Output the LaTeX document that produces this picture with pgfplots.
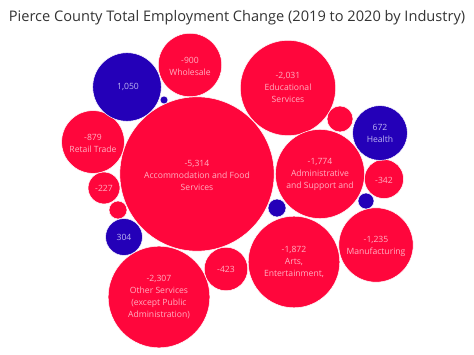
\documentclass[border=0pt]{standalone}
\usepackage{fontspec}
\setmainfont{Open Sans}
\usepackage{pgfplots}
\usepackage{pgfplotstable}
\pgfplotsset{compat=1.18}
\definecolor{bred}{HTML}{FF063C}
\definecolor{bblue}{HTML}{2400B8}
\definecolor{tred}{HTML}{FFB0C2}
\definecolor{tblue}{HTML}{BEB6F2}
\definecolor{ttl}{HTML}{333333}
% x, y in pixels of the picture (y downwards), v = employment change
\pgfplotstableread{
x y v
197 174 -5314
288 88 -2031
190 65 -900
93 142 -879
104 188 -227
118 210 -72
159 297 -2307
226 269 -423
294 262 -1872
320 174 -1774
340 119 -151
384 179 -342
376 245 -1235
}\redtab
\pgfplotstableread{
x y v
127 87 1050
164 100 14
124 237 304
277 208 72
380 133 672
366 201 57
}\bluetab
\begin{document}
\begin{tikzpicture}[lbl/.style={font=\fontsize{8.6}{12}\selectfont, align=center, inner sep=0pt}]
\begin{axis}[
  set layers,
  scale only axis, width=474pt, height=355pt,
  xmin=0, xmax=474, ymin=0, ymax=355, y dir=reverse,
  axis lines=none, clip=false,
]
\addplot[scatter, only marks, mark=*,
  scatter/use mapped color={draw=white, fill=bred, line width=0.5pt},
  visualization depends on={sqrt(1.12*abs(\thisrow{v}))\as\rad},
  scatter/@pre marker code/.append style={/tikz/mark size=\rad}]
  table[x=x, y=y] {\redtab};
\addplot[scatter, only marks, mark=*,
  scatter/use mapped color={draw=white, fill=bblue, line width=0.5pt},
  visualization depends on={sqrt(1.12*abs(\thisrow{v}))\as\rad},
  scatter/@pre marker code/.append style={/tikz/mark size=\rad}]
  table[x=x, y=y] {\bluetab};
\begin{pgfonlayer}{axis foreground}
\node[text=ttl, font=\fontsize{14.6}{17}\selectfont] at (axis cs:237,18) {Pierce County Total Employment Change (2019 to 2020 by Industry)};
\node[lbl, text=tred] at (axis cs:197,175) {-5,314\\Accommodation and Food\\Services};
\node[lbl, text=tred] at (axis cs:288,87) {-2,031\\Educational\\Services};
\node[lbl, text=tred] at (axis cs:190,66) {-900\\Wholesale};
\node[lbl, text=tblue] at (axis cs:128,87) {1,050};
\node[lbl, text=tred] at (axis cs:93,143) {-879\\Retail Trade};
\node[lbl, text=tred] at (axis cs:104,188) {-227};
\node[lbl, text=tblue] at (axis cs:124,237) {304};
\node[lbl, text=tred] at (axis cs:159,297) {-2,307\\Other Services\\(except Public\\Administration)};
\node[lbl, text=tred] at (axis cs:226,269) {-423};
\node[lbl, text=tred] at (axis cs:294,262) {-1,872\\Arts,\\Entertainment,};
\node[lbl, text=tred] at (axis cs:320,174) {-1,774\\Administrative\\and Support and};
\node[lbl, text=tblue] at (axis cs:380,133) {672\\Health};
\node[lbl, text=tred] at (axis cs:384,180) {-342};
\node[lbl, text=tred] at (axis cs:376,246) {-1,235\\Manufacturing};
\end{pgfonlayer}
\end{axis}
\pgfresetboundingbox
\path (current axis.south west) rectangle (current axis.north east);
\end{tikzpicture}
\end{document}
